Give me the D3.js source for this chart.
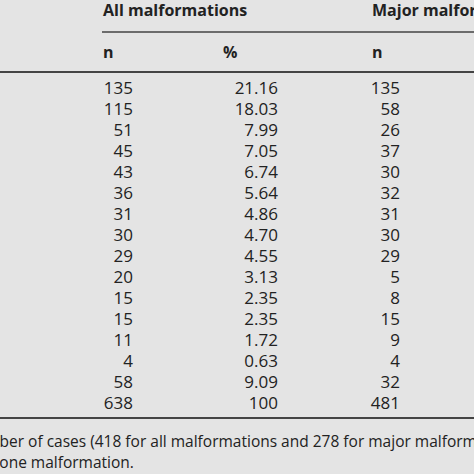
<!DOCTYPE html><html><head><script src="https://cdn.jsdelivr.net/npm/d3@7"></script>
<style>body{margin:0;background:#e4e4e4}</style></head><body><script>
const allN=[135,115,51,45,43,36,31,30,29,20,15,15,11,4,58,638];
const allPct=["21.16","18.03","7.99","7.05","6.74","5.64","4.86","4.70","4.55","3.13","2.35","2.35","1.72","0.63","9.09","100"];
const majorN=[135,58,26,37,30,32,31,30,29,5,8,15,9,4,32,481];
const W=474,H=474;
const svg=d3.select("body").append("svg").attr("width",W).attr("height",H).style("background","#e4e4e4");
const font="'Open Sans', 'DejaVu Sans', sans-serif";
const y=d3.scaleLinear().domain([0,15]).range([87,402]);
const txt=(x,yy,s,o={})=>svg.append("text").attr("x",x).attr("y",yy).text(s)
 .attr("font-family",font).attr("font-size",o.size||17).attr("fill","#222")
 .attr("font-weight",o.bold?"bold":"normal").attr("text-anchor",o.anchor||"start")
 .attr("dominant-baseline","central").attr("letter-spacing",o.ls||0);
txt(103,10,"All malformations",{bold:true,size:16});
txt(372,10,"Major malformations",{bold:true,size:16});
svg.append("line").attr("x1",102).attr("x2",W).attr("y1",32).attr("y2",32).attr("stroke","#444").attr("stroke-width",1.5);
txt(103,52,"n",{bold:true,size:16});txt(223,52,"%",{bold:true,size:16});txt(372,52,"n",{bold:true,size:16});
svg.append("line").attr("x1",0).attr("x2",W).attr("y1",72).attr("y2",72).attr("stroke","#444").attr("stroke-width",2);
allN.forEach((v,i)=>{
 txt(133,y(i),v,{anchor:"end"});
 txt(278,y(i),allPct[i],{anchor:"end"});
 txt(400,y(i),majorN[i],{anchor:"end"});
});
svg.append("line").attr("x1",0).attr("x2",W).attr("y1",418).attr("y2",418).attr("stroke","#444").attr("stroke-width",2);
txt(-36,441,"Number of cases (418 for all malformations and 278 for major malformations)",{size:15.5});
txt(-92,462,"with at least one malformation.",{size:15.5});
</script></body></html>
